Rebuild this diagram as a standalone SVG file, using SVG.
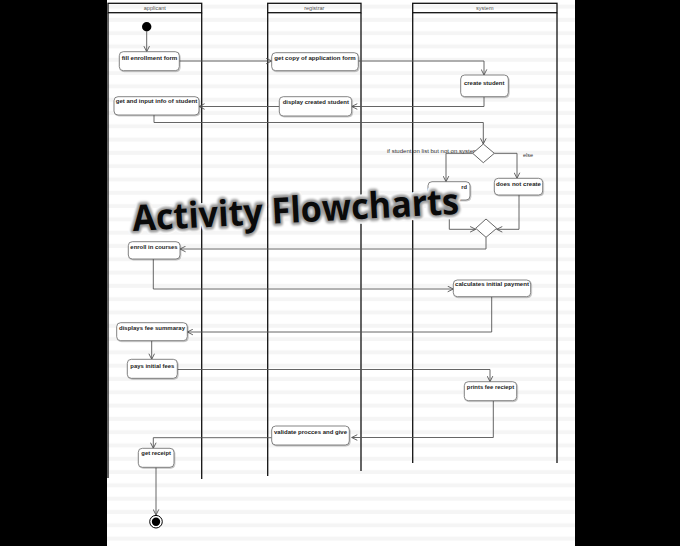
<svg xmlns="http://www.w3.org/2000/svg" width="680" height="546" viewBox="0 0 680 546">
<style>
.lane{fill:none;stroke:#111;stroke-width:1.3}
.hd{font-family:"Liberation Sans",Arial,sans-serif;font-size:5.5px;fill:#555;text-anchor:middle}
.nd{fill:#fff;stroke:#666;stroke-width:0.8}
.nt{font-family:"Liberation Sans",Arial,sans-serif;font-size:5.8px;font-weight:bold;fill:#222;text-anchor:middle}
.lb{font-family:"Liberation Sans",Arial,sans-serif;font-size:5.5px;fill:#333}
.cn path{fill:none;stroke:#555;stroke-width:0.9;marker-end:url(#ar)}
.dm{fill:#fff;stroke:#555;stroke-width:0.9}
</style>
<defs>
<marker id="ar" viewBox="0 0 10 10" refX="9" refY="5" markerWidth="7" markerHeight="7" markerUnits="userSpaceOnUse" orient="auto">
<path d="M1,1 L9,5 L1,9" fill="none" stroke="#555" stroke-width="1.3"/>
</marker>
<filter id="sh" x="-10%" y="-10%" width="130%" height="140%">
<feDropShadow dx="0.8" dy="1" stdDeviation="0.6" flood-color="#000" flood-opacity="0.25"/>
</filter>
<filter id="glow" x="-5%" y="-20%" width="110%" height="140%">
<feGaussianBlur stdDeviation="1.2"/>
</filter>
<pattern id="tx" width="40" height="13.3" patternUnits="userSpaceOnUse">
<rect x="0" y="4.5" width="40" height="4" fill="#f5f5f5"/>
</pattern>
</defs>
<rect width="680" height="546" fill="#000"/>
<rect x="107" y="0" width="468" height="546" fill="#fff"/>
<rect x="107" y="0" width="468" height="546" fill="url(#tx)"/>

<g id="lanes">
<g id="lane-applicant">
<rect x="108" y="3.3" width="93.7" height="9.4" fill="#fff" class="lane"/>
<line x1="108" y1="12.7" x2="108" y2="478" class="lane"/>
<line x1="201.7" y1="12.7" x2="201.7" y2="479" class="lane"/>
<text x="154.8" y="9.9" class="hd">applicant</text>
</g>
<g id="lane-registrar">
<rect x="267.7" y="3.3" width="93.3" height="9.4" fill="#fff" class="lane"/>
<line x1="267.7" y1="12.7" x2="267.7" y2="476" class="lane"/>
<line x1="361" y1="12.7" x2="361" y2="471" class="lane"/>
<text x="314.3" y="9.9" class="hd">registrar</text>
</g>
<g id="lane-system">
<rect x="412.7" y="3.3" width="144.3" height="9.4" fill="#fff" class="lane"/>
<line x1="412.7" y1="12.7" x2="412.7" y2="463" class="lane"/>
<line x1="557" y1="12.7" x2="557" y2="463" class="lane"/>
<text x="484.8" y="9.9" class="hd">system</text>
</g>
</g>

<text x="387" y="153" class="lb" textLength="91" lengthAdjust="spacingAndGlyphs">if student on list but not on system</text>
<text x="523" y="157" class="lb">else</text>

<g id="connectors" class="cn">
<path d="M146.7,31.5 V51.7"/>
<path d="M179.3,61 H271.7"/>
<path d="M358.3,61 H484 V75"/>
<path d="M484,96.7 V106.5 H351.7"/>
<path d="M279.3,106.5 H199"/>
<path d="M154,115 V122.5 H483.3 V144"/>
<path d="M472.7,153.3 H446 V181.7"/>
<path d="M494.3,153.3 H517 V178.3"/>
<path d="M449.3,200 V229.3 H475.7"/>
<path d="M519,195 V229.3 H496.7"/>
<path d="M486,237.3 V249 H180"/>
<path d="M153.3,259 V289 H453.3"/>
<path d="M491.7,296.7 V332 H187.3"/>
<path d="M151.7,340.7 V359.3"/>
<path d="M177.3,369.5 H490 V381.7"/>
<path d="M493.3,400.7 V437.5 H351.7"/>
<path d="M271.7,437.7 H153.3 V448.3"/>
<path d="M156,467.3 V515"/>
</g>

<g id="start"><circle cx="146.7" cy="26.7" r="4.7" fill="#000"/></g>

<g id="fill-enrollment-form">
<rect x="119.3" y="51.7" width="60" height="19" rx="4" class="nd" filter="url(#sh)"/>
<text x="149.5" y="59.5" class="nt" textLength="55.6" lengthAdjust="spacingAndGlyphs">fill enrollment form</text>
</g>
<g id="get-copy">
<rect x="271.7" y="52.7" width="86.6" height="18" rx="4" class="nd" filter="url(#sh)"/>
<text x="315" y="60.3" class="nt" textLength="81.4" lengthAdjust="spacingAndGlyphs">get copy of application form</text>
</g>
<g id="create-student">
<rect x="460.7" y="75" width="47.6" height="21.7" rx="4" class="nd" filter="url(#sh)"/>
<text x="484.2" y="85.3" class="nt" textLength="40.3" lengthAdjust="spacingAndGlyphs">create student</text>
</g>
<g id="get-input-info">
<rect x="114" y="96.7" width="85" height="18.3" rx="4" class="nd" filter="url(#sh)"/>
<text x="156.5" y="102.9" class="nt" textLength="81.6" lengthAdjust="spacingAndGlyphs">get and input info of student</text>
</g>
<g id="display-created-student">
<rect x="279.3" y="96.7" width="72.4" height="19.3" rx="4" class="nd" filter="url(#sh)"/>
<text x="315.8" y="103.8" class="nt" textLength="66.3" lengthAdjust="spacingAndGlyphs">display created student</text>
</g>
<g id="decision">
<polygon points="483.3,144 494.3,153.3 483.3,162.7 472.7,153.3" class="dm"/>
</g>
<g id="record-node">
<rect x="428" y="181.7" width="42" height="18.3" rx="4" class="nd" filter="url(#sh)"/>
<text x="467" y="188.5" class="nt" style="text-anchor:end">rd</text>
</g>
<g id="does-not-create">
<rect x="494.3" y="178.3" width="48.4" height="16.7" rx="4" class="nd" filter="url(#sh)"/>
<text x="518.5" y="186" class="nt" textLength="45" lengthAdjust="spacingAndGlyphs">does not create</text>
</g>
<g id="merge">
<polygon points="486,219 496.7,228.3 486,237.3 475.7,228.3" class="dm"/>
</g>
<g id="enroll-in-courses">
<rect x="128.3" y="241.7" width="51.7" height="17.3" rx="4" class="nd" filter="url(#sh)"/>
<text x="154" y="248.8" class="nt" textLength="47.3" lengthAdjust="spacingAndGlyphs">enroll in courses</text>
</g>
<g id="calculates-initial-payment">
<rect x="453.3" y="280" width="77.4" height="16.7" rx="4" class="nd" filter="url(#sh)"/>
<text x="492" y="286.1" class="nt" textLength="74" lengthAdjust="spacingAndGlyphs">calculates initial payment</text>
</g>
<g id="displays-fee-summaray">
<rect x="116.7" y="322.7" width="70.6" height="18" rx="4" class="nd" filter="url(#sh)"/>
<text x="152" y="330.4" class="nt" textLength="66" lengthAdjust="spacingAndGlyphs">displays fee summaray</text>
</g>
<g id="pays-initial-fees">
<rect x="127.3" y="359.3" width="50" height="19" rx="4" class="nd" filter="url(#sh)"/>
<text x="152.3" y="368.1" class="nt" textLength="44" lengthAdjust="spacingAndGlyphs">pays initial fees</text>
</g>
<g id="prints-fee-reciept">
<rect x="464.3" y="381.7" width="52.4" height="19" rx="4" class="nd" filter="url(#sh)"/>
<text x="490.5" y="389.4" class="nt" textLength="47.3" lengthAdjust="spacingAndGlyphs">prints fee reciept</text>
</g>
<g id="validate">
<rect x="271.7" y="426" width="77.6" height="19" rx="4" class="nd" filter="url(#sh)"/>
<text x="310.5" y="434.4" class="nt" textLength="73" lengthAdjust="spacingAndGlyphs">validate procces and give</text>
</g>
<g id="get-receipt">
<rect x="138.3" y="448.3" width="35.7" height="19" rx="4" class="nd" filter="url(#sh)"/>
<text x="156.2" y="455.4" class="nt" textLength="29.7" lengthAdjust="spacingAndGlyphs">get receipt</text>
</g>
<g id="end">
<circle cx="156" cy="521.7" r="6.3" fill="#fff" stroke="#000" stroke-width="1"/>
<circle cx="156" cy="521.7" r="4.2" fill="#000"/>
</g>

<g id="title" transform="rotate(-3 133 231)">
<text x="133" y="231" font-family="'Open Sans','DejaVu Sans',sans-serif" font-size="36" font-weight="bold" textLength="327" lengthAdjust="spacingAndGlyphs" fill="#fff" stroke="#fff" stroke-width="9" stroke-linejoin="round">Activity Flowcharts</text>
<text x="133" y="231" font-family="'Open Sans','DejaVu Sans',sans-serif" font-size="36" font-weight="bold" textLength="327" lengthAdjust="spacingAndGlyphs" fill="#999" stroke="#999" stroke-width="5" stroke-linejoin="round" filter="url(#glow)">Activity Flowcharts</text>
<text x="133" y="231" font-family="'Open Sans','DejaVu Sans',sans-serif" font-size="36" font-weight="bold" textLength="327" lengthAdjust="spacingAndGlyphs" fill="#0a0a0a">Activity Flowcharts</text>
</g>
</svg>
